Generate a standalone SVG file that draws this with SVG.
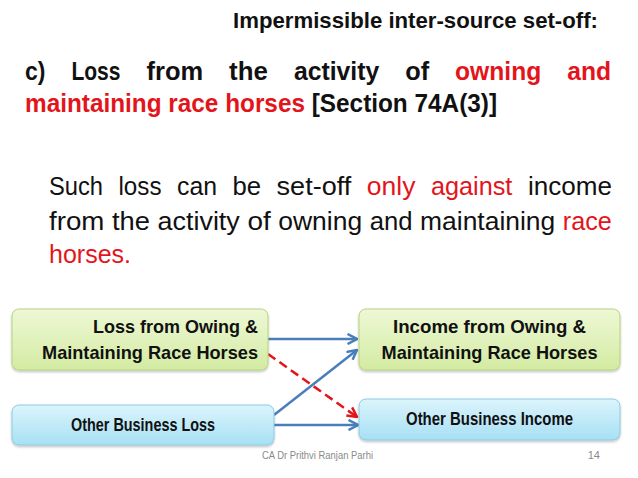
<svg xmlns="http://www.w3.org/2000/svg" width="638" height="478" viewBox="0 0 638 478">
<style>
.t{font-family:"Liberation Sans",Arial,sans-serif;fill:#111}
.b{font-weight:bold}
.r{fill:#e3151b}
.bx{font-family:"Liberation Sans",Arial,sans-serif;font-weight:bold;font-size:18.5px;fill:#111}
.ft{font-family:"Liberation Sans",Arial,sans-serif;font-size:11px;fill:#8a8a8a}
.blue{stroke:#4a7ebb;stroke-width:2.5;fill:none}
.red{stroke:#e3151b;stroke-width:2.5;fill:none;stroke-dasharray:9 5}
.gbox{fill:url(#gg);stroke:#b7d27e;stroke-width:1}
.bbox{fill:url(#bg);stroke:#8ccbe2;stroke-width:1}
</style>
<defs>
<linearGradient id="gg" x1="0" y1="0" x2="0" y2="1">
<stop offset="0" stop-color="#eef8d6"/>
<stop offset="1" stop-color="#d3eba2"/>
</linearGradient>
<linearGradient id="bg" x1="0" y1="0" x2="0" y2="1">
<stop offset="0" stop-color="#dcf4fc"/>
<stop offset="1" stop-color="#a6e0f4"/>
</linearGradient>
<filter id="sh" x="-5%" y="-10%" width="110%" height="130%">
<feDropShadow dx="0" dy="1.5" stdDeviation="1.2" flood-color="#000" flood-opacity="0.25"/>
</filter>
<marker id="ab" viewBox="0 0 12 12" refX="11" refY="6" markerWidth="12" markerHeight="12" markerUnits="userSpaceOnUse" orient="auto">
<path d="M1.5,1 L11,6 L1.5,11" fill="none" stroke="#4a7ebb" stroke-width="2.5"/>
</marker>
<marker id="ar" viewBox="0 0 12 12" refX="11" refY="6" markerWidth="12" markerHeight="12" markerUnits="userSpaceOnUse" orient="auto">
<path d="M1.5,1 L11,6 L1.5,11" fill="none" stroke="#e3151b" stroke-width="2.5"/>
</marker>
</defs>
<rect width="638" height="478" fill="#fff"/>

<text class="t b" x="233" y="28" font-size="22" textLength="365" lengthAdjust="spacingAndGlyphs">Impermissible inter-source set-off:</text>

<text class="t b" y="80" font-size="25" lengthAdjust="spacingAndGlyphs"><tspan x="25" textLength="20.4" lengthAdjust="spacingAndGlyphs">c)</tspan><tspan x="71.4" textLength="49.1" lengthAdjust="spacingAndGlyphs">Loss</tspan><tspan x="146.5" textLength="56.6" lengthAdjust="spacingAndGlyphs">from</tspan><tspan x="229.1" textLength="38.8" lengthAdjust="spacingAndGlyphs">the</tspan><tspan x="293.9" textLength="85.3" lengthAdjust="spacingAndGlyphs">activity</tspan><tspan x="405.2" textLength="23.9" lengthAdjust="spacingAndGlyphs">of</tspan><tspan x="455.1" class="r" textLength="86.1" lengthAdjust="spacingAndGlyphs">owning</tspan><tspan x="567.2" class="r" textLength="43.9" lengthAdjust="spacingAndGlyphs">and</tspan></text>
<text class="t b" x="25" y="112" font-size="25" textLength="472" lengthAdjust="spacingAndGlyphs"><tspan class="r">maintaining race horses</tspan> [Section 74A(3)]</text>

<text class="t" y="195" font-size="25"><tspan x="49" textLength="54" lengthAdjust="spacingAndGlyphs">Such</tspan><tspan x="118.5" textLength="43" lengthAdjust="spacingAndGlyphs">loss</tspan><tspan x="177" textLength="40" lengthAdjust="spacingAndGlyphs">can</tspan><tspan x="232.5" textLength="28.6" lengthAdjust="spacingAndGlyphs">be</tspan><tspan x="276.6" textLength="74.7" lengthAdjust="spacingAndGlyphs">set-off</tspan><tspan x="366.8" class="r" textLength="48.6" lengthAdjust="spacingAndGlyphs">only</tspan><tspan x="430.9" class="r" textLength="81.5" lengthAdjust="spacingAndGlyphs">against</tspan><tspan x="527.9" textLength="84" lengthAdjust="spacingAndGlyphs">income</tspan></text>
<text class="t" y="230" font-size="25"><tspan x="49" textLength="55.4" lengthAdjust="spacingAndGlyphs">from</tspan><tspan x="112" textLength="38" lengthAdjust="spacingAndGlyphs">the</tspan><tspan x="157.6" textLength="82.2" lengthAdjust="spacingAndGlyphs">activity</tspan><tspan x="247.4" textLength="23.3" lengthAdjust="spacingAndGlyphs">of</tspan><tspan x="278.3" textLength="83.8" lengthAdjust="spacingAndGlyphs">owning</tspan><tspan x="369.7" textLength="42.8" lengthAdjust="spacingAndGlyphs">and</tspan><tspan x="420.1" textLength="135.1" lengthAdjust="spacingAndGlyphs">maintaining</tspan><tspan x="562.8" class="r" textLength="49" lengthAdjust="spacingAndGlyphs">race</tspan></text>
<text class="t r" x="49" y="263" font-size="25" textLength="82" lengthAdjust="spacingAndGlyphs">horses.</text>

<g id="connectors">
<line class="blue" x1="268" y1="339" x2="357" y2="339" marker-end="url(#ab)"/>
<line class="blue" x1="274" y1="415" x2="357" y2="350" marker-end="url(#ab)"/>
<line class="blue" x1="274" y1="425" x2="358" y2="425" marker-end="url(#ab)"/>
<line class="red" x1="268" y1="354" x2="357" y2="417" marker-end="url(#ar)"/>
</g>

<g id="loss-race">
<rect class="gbox" x="12" y="309" width="256" height="61" rx="7" filter="url(#sh)"/>
<text class="bx" x="258" y="333" text-anchor="end" textLength="165" lengthAdjust="spacingAndGlyphs">Loss from Owing &amp;</text>
<text class="bx" x="258" y="359" text-anchor="end" textLength="216" lengthAdjust="spacingAndGlyphs">Maintaining Race Horses</text>
</g>
<g id="loss-other">
<rect class="bbox" x="12" y="405" width="262" height="40" rx="7" filter="url(#sh)"/>
<text class="bx" x="143" y="431" text-anchor="middle" textLength="144" lengthAdjust="spacingAndGlyphs">Other Business Loss</text>
</g>
<g id="income-race">
<rect class="gbox" x="359" y="309" width="261" height="61" rx="7" filter="url(#sh)"/>
<text class="bx" x="489.5" y="333" text-anchor="middle" textLength="193" lengthAdjust="spacingAndGlyphs">Income from Owing &amp;</text>
<text class="bx" x="489.5" y="359" text-anchor="middle" textLength="216" lengthAdjust="spacingAndGlyphs">Maintaining Race Horses</text>
</g>
<g id="income-other">
<rect class="bbox" x="359" y="399" width="261" height="41" rx="7" filter="url(#sh)"/>
<text class="bx" x="489.5" y="425" text-anchor="middle" textLength="167" lengthAdjust="spacingAndGlyphs">Other Business Income</text>
</g>

<text class="ft" x="262" y="459" textLength="111" lengthAdjust="spacingAndGlyphs">CA Dr Prithvi Ranjan Parhi</text>
<text class="ft" x="600" y="459" text-anchor="end">14</text>
</svg>
